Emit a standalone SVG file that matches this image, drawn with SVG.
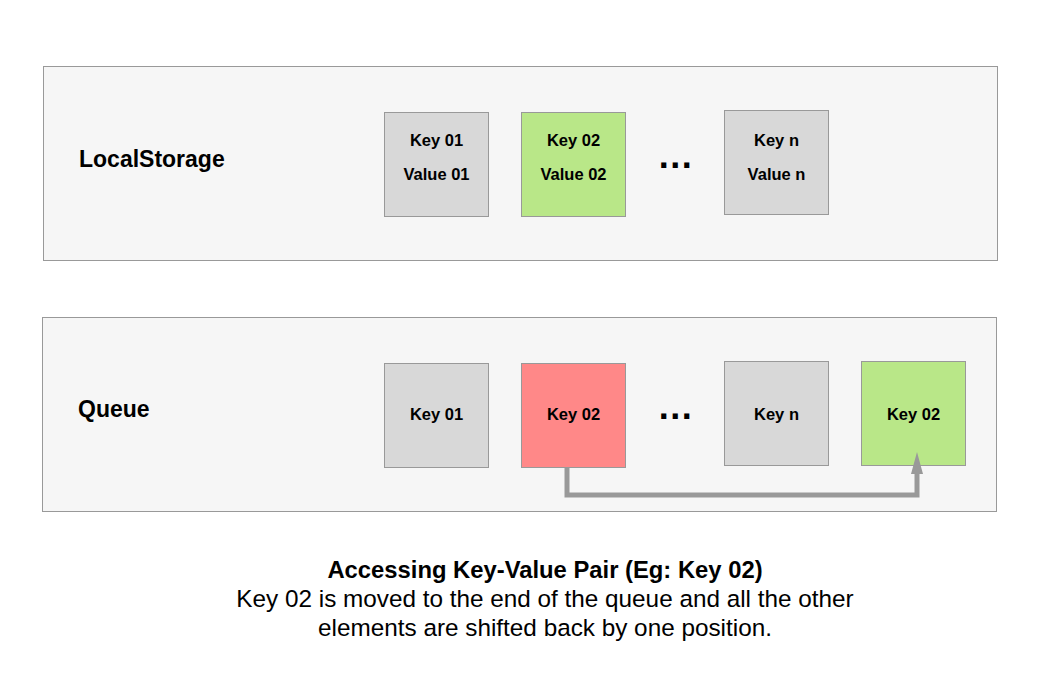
<svg xmlns="http://www.w3.org/2000/svg" width="1044" height="686" viewBox="0 0 1044 686">
<style>
.panel{fill:#f6f6f6;stroke:#999999;stroke-width:1}
.node{stroke:#999999;stroke-width:1}
.grey{fill:#d8d8d8}
.green{fill:#b9e788}
.red{fill:#ff8888}
.t{font-family:"Liberation Sans",Arial,sans-serif;fill:#000000}
.lbl{font-size:16.5px;font-weight:bold;text-anchor:middle}
.title{font-size:23px;font-weight:bold}
.dots{font-size:36px;font-weight:bold;text-anchor:middle;letter-spacing:1.5px}
.cap{font-size:24.3px;text-anchor:middle}
.capb{font-size:23.8px;font-weight:bold;text-anchor:middle}
</style>
<defs>
<marker id="ah" markerWidth="22" markerHeight="12" refX="0" refY="6" orient="auto" markerUnits="userSpaceOnUse" viewBox="0 0 22 12">
<path d="M0,0 L22,6 L0,12 Z" fill="#999999"/>
</marker>
</defs>
<rect width="1044" height="686" fill="#ffffff"/>
<g id="localstorage">
<rect class="panel" x="43.5" y="66.5" width="954" height="194"/>
<text class="t title" x="79" y="167">LocalStorage</text>
</g>
<g id="queue">
<rect class="panel" x="42.5" y="317.5" width="954" height="194"/>
<text class="t title" x="78" y="417">Queue</text>
</g>
<g id="ls-key01">
<rect class="node grey" x="384.5" y="112.5" width="104" height="104"/>
<text class="t lbl" x="436.5" y="146">Key 01</text>
<text class="t lbl" x="436.5" y="180">Value 01</text>
</g>
<g id="ls-key02">
<rect class="node green" x="521.5" y="112.5" width="104" height="104"/>
<text class="t lbl" x="573.5" y="146">Key 02</text>
<text class="t lbl" x="573.5" y="180">Value 02</text>
</g>
<g id="ls-dots">
<text class="t dots" x="676" y="168">...</text>
</g>
<g id="ls-keyn">
<rect class="node grey" x="724.5" y="110.5" width="104" height="104"/>
<text class="t lbl" x="776.5" y="146">Key n</text>
<text class="t lbl" x="776.5" y="180">Value n</text>
</g>
<g id="q-key01">
<rect class="node grey" x="384.5" y="363.5" width="104" height="104"/>
<text class="t lbl" x="436.5" y="420">Key 01</text>
</g>
<g id="q-key02">
<rect class="node red" x="521.5" y="363.5" width="104" height="104"/>
<text class="t lbl" x="573.5" y="420">Key 02</text>
</g>
<g id="q-dots">
<text class="t dots" x="676" y="419">...</text>
</g>
<g id="q-keyn">
<rect class="node grey" x="724.5" y="361.5" width="104" height="104"/>
<text class="t lbl" x="776.5" y="420">Key n</text>
</g>
<g id="q-key02-end">
<rect class="node green" x="861.5" y="361.5" width="104" height="104"/>
<text class="t lbl" x="913.5" y="420">Key 02</text>
</g>
<g id="connectors">
<path d="M567,467 L567,495 L917,495 L917,474" fill="none" stroke="#999999" stroke-width="5" marker-end="url(#ah)"/>
</g>
<g id="caption">
<text class="t capb" x="545" y="578">Accessing Key-Value Pair (Eg: Key 02)</text>
<text class="t cap" x="545" y="607">Key 02 is moved to the end of the queue and all the other</text>
<text class="t cap" x="545" y="636">elements are shifted back by one position.</text>
</g>
</svg>
